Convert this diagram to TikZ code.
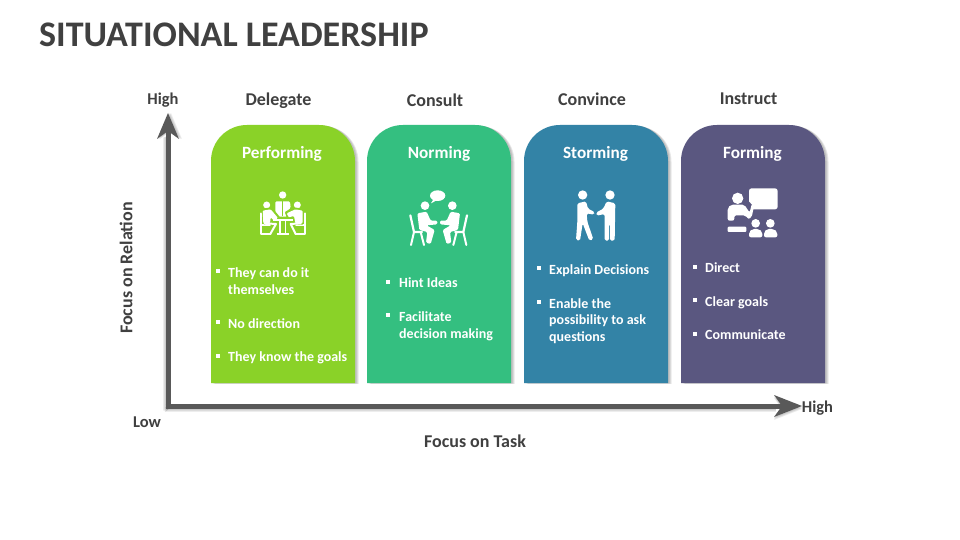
\documentclass[tikz,border=0pt]{standalone}
\usepackage{fontspec}
\setmainfont{Carlito}
\usetikzlibrary{calc}
\definecolor{cgreen}{HTML}{8AD228}
\definecolor{cteal}{HTML}{34BF80}
\definecolor{cblue}{HTML}{3383A6}
\definecolor{cpurple}{HTML}{5A5780}
\definecolor{ink}{HTML}{404040}
\definecolor{axis}{HTML}{595959}
\newcommand{\cardpath}{(0,383) -- (0,161) .. controls (0,141) and (16,125) .. (36,125) -- (108,125) .. controls (128,125) and (144,141) .. (144,161) -- (144,383) -- cycle}
\newcommand{\cardshape}[2]{%
  \begin{scope}[shift={(#1,0)}]
    \foreach \d in {3.5,2.5,1.5}{\fill[black,opacity=.09,shift={(\d,\d*0.25)}] \cardpath;}
    \fill[#2] \cardpath;
  \end{scope}}
\newcommand{\sbul}[2]{\fill[white] (#1-2,#2-2) rectangle (#1+2,#2+2);}
\tikzset{
  x=1pt,y=-1pt,
  label text/.style={text=ink,font=\fontsize{18}{20}\selectfont\bfseries,inner sep=0pt,anchor=base},
  end text/.style={text=ink,font=\fontsize{16.5}{18}\selectfont\bfseries,inner sep=0pt,anchor=base},
  card title/.style={text=white,font=\fontsize{17.2}{19}\selectfont\bfseries,inner sep=0pt,anchor=base},
  bullet text/.style={text=white,font=\fontsize{14}{17}\selectfont\bfseries,inner sep=0pt,anchor=base west},
  axis line/.style={draw=axis,line width=5pt},
  axis head/.style={fill=axis},
  iconline/.style={draw=white,line cap=round,line join=round},
}
\begin{document}
\begin{tikzpicture}
\useasboundingbox (0,0) rectangle (960,540);
\fill[white] (0,0) rectangle (960,540);

\node[text=ink,font=\fontsize{36}{40}\selectfont\bfseries,inner sep=0pt,anchor=west] (title) at (39,34.5) {SITUATIONAL LEADERSHIP};

\cardshape{211}{cgreen}
\cardshape{367}{cteal}
\cardshape{524}{cblue}
\cardshape{681}{cpurple}

% axes
\coordinate (origin) at (168,406);
\coordinate (ytip) at (168,113);
\coordinate (xtip) at (802,406);
\foreach \d in {3,2,1}{
  \draw[black,opacity=.07,line width=5pt,line cap=round] ($(origin)+(-\d,\d)$) -- ($(ytip)+(-\d,26)$);
  \draw[black,opacity=.07,line width=5pt] ($(origin)+(-\d,\d)$) -- ($(xtip)+(-26,\d)$);
  \fill[black,opacity=.08] ($(ytip)+(\d,0)$) -- ++(-11,26) -- ++(11,-8) -- ++(11,8) -- cycle;
  \fill[black,opacity=.08] ($(xtip)+(0,\d)$) -- ++(-28,-11) -- ++(8,11) -- ++(-8,11) -- cycle;
}
\draw[axis line] (origin) -- ($(ytip)+(0,18)$);
\draw[axis line] ($(origin)+(-2.5,0)$) -- ($(xtip)+(-20,0)$);
\fill[axis head] (ytip) -- ++(-11,26) -- ++(11,-8) -- ++(11,8) -- cycle;
\fill[axis head] (xtip) -- ++(-28,-11) -- ++(8,11) -- ++(-8,11) -- cycle;

% labels
\node[end text] (yhigh) at (163,104.5) {High};
\node[end text] (ylow) at (147,427) {Low};
\node[end text] (xhigh) at (817.5,412.5) {High};
\node[label text] (xlabel) at (475,447.5) {Focus on Task};
\node[text=ink,font=\fontsize{18}{20}\selectfont\bfseries,inner sep=0pt,rotate=90] (ylabel) at (126,268) {Focus on Relation};
\node[label text] (h1) at (278.5,105.5) {Delegate};
\node[label text] (h2) at (435,106.5) {Consult};
\node[label text] (h3) at (592,106) {Convince};
\node[label text] (h4) at (748.5,105) {Instruct};

% card titles
\node[card title] (t1) at (282,159) {Performing};
\node[card title] (t2) at (439,159) {Norming};
\node[card title] (t3) at (595.5,159) {Storming};
\node[card title] (t4) at (752.5,159) {Forming};

% bullets card 1
\sbul{218}{271}\node[bullet text] (b11) at (228,277) {They can do it};
\node[bullet text] (b12) at (228,294) {themselves};
\sbul{218}{322}\node[bullet text] (b13) at (228,328) {No direction};
\sbul{218}{356}\node[bullet text] (b14) at (228,361) {They know the goals};
% bullets card 2
\sbul{388}{282}\node[bullet text] (b21) at (399,287) {Hint Ideas};
\sbul{388}{315}\node[bullet text] (b22) at (399,321) {Facilitate};
\node[bullet text] (b23) at (399,338) {decision making};
% bullets card 3
\sbul{539}{268}\node[bullet text] (b31) at (549,274) {Explain Decisions};
\sbul{539}{302}\node[bullet text] (b32) at (549,308) {Enable the};
\node[bullet text] (b33) at (549,324.5) {possibility to ask};
\node[bullet text] (b34) at (549,341) {questions};
% bullets card 4
\sbul{695}{267}\node[bullet text] (b41) at (705,272.5) {Direct};
\sbul{695}{300}\node[bullet text] (b42) at (705,306) {Clear goals};
\sbul{695}{334}\node[bullet text] (b43) at (705,339) {Communicate};

% icon 1: meeting at table
\begin{scope}[shift={(250,180)},x=0.3333pt,y=-0.3333pt]
  \fill[white] (98,45) circle (11);
  \fill[white] (50,75) circle (10.5);
  \fill[white] (142,75) circle (10.5);
  \fill[white,rounded corners=1.3pt] (76,110) -- (76,64) -- (120,64) -- (122,84) -- (112,92) -- (112,110) -- cycle;
  \draw[cgreen,line width=.4pt] (98,60) -- (98,108);
  \draw[iconline,line width=1.7pt] (32,100) -- (32,162) -- (62,162);
  \draw[iconline,line width=1.7pt] (32,136) -- (60,136);
  \draw[iconline,line width=1.7pt] (166,100) -- (166,162) -- (136,162);
  \draw[iconline,line width=1.7pt] (166,136) -- (138,136);
  \fill[cgreen,rounded corners=1pt] (34,86) -- (66,82) -- (92,114) -- (72,128) -- (64,128) -- (40,134) -- cycle;
  \fill[cgreen,rounded corners=1pt] (162,86) -- (130,82) -- (104,96) -- (112,116) -- (130,114) -- (132,134) -- (160,134) -- cycle;
  \fill[white,rounded corners=1pt] (38,92) -- (62,88) -- (84,114) -- (72,122) -- (62,112) -- (60,130) -- (40,130) -- cycle;
  \fill[white,rounded corners=1pt] (158,92) -- (136,88) -- (110,100) -- (116,112) -- (132,108) -- (136,130) -- (158,130) -- cycle;
  \draw[iconline,line width=2pt] (44,130) -- (78,132) -- (62,160);
  \draw[iconline,line width=2pt] (152,130) -- (122,132) -- (136,160);
  \draw[white,line width=2pt] (68,120) -- (128,120);
  \draw[white,line width=1.3pt] (90,120) -- (90,160) (106,120) -- (106,160);
  \draw[white,line width=1.3pt] (80,162) -- (116,162);
\end{scope}

% icon 2: two people talking
\begin{scope}[shift={(400,180)},x=0.3333pt,y=-0.3333pt]
  \fill[white] (113,47) ellipse (23 and 16);
  \fill[white] (100,58) -- (93,70) -- (112,60) -- cycle;
  \foreach \mx/\s in {0/1,232/-1}{
    \begin{scope}[shift={(\mx,0)},xscale=\s]
      \fill[white] (75,77) circle (13);
      \fill[white,rounded corners=1.3pt] (52,100) -- (80,95) -- (92,122) -- (112,122) -- (112,133) -- (80,136) -- (104,150) -- (92,192) -- (78,188) -- (82,156) -- (58,150) -- cycle;
      \draw[iconline,line width=2.2pt] (31,106) -- (42,156) -- (66,156);
      \draw[iconline,line width=2pt] (42,156) -- (33,195);
      \draw[iconline,line width=2pt] (62,156) -- (72,195);
    \end{scope}
  }
\end{scope}

% icon 3: handshake
\begin{scope}[shift={(560,180)},x=0.3333pt,y=-0.3333pt]
  \fill[white] (68,45) circle (14);
  \fill[white] (150,45) circle (14);
  \fill[white,rounded corners=1.6pt] (52,70) -- (78,64) -- (84,86) -- (104,96) -- (102,104) -- (80,100) -- (82,125) -- (100,178) -- (88,182) -- (68,130) -- (60,182) -- (48,180) -- (52,125) -- cycle;
  \fill[white,rounded corners=1.6pt] (166,70) -- (140,64) -- (130,86) -- (108,98) -- (110,107) -- (134,102) -- (134,182) -- (147,182) -- (147,132) -- (150,132) -- (150,182) -- (164,182) -- cycle;
\end{scope}

% icon 4: teacher and class
\begin{scope}[shift={(715,180)},x=0.3333pt,y=-0.3333pt]
  \fill[white,rounded corners=2.6pt] (102,25) rectangle (188,88);
  \fill[cpurple] (98,60) -- (112,76) -- (112,100) -- (92,100) -- cycle;
  \fill[white] (68,55) circle (17);
  \fill[white,rounded corners=2pt] (38,122) -- (38,84) -- (48,74) -- (88,74) -- (104,98) -- (110,72) -- (118,74) -- (110,112) -- (100,118) -- (92,106) -- (58,106) -- (58,122) -- cycle;
  \fill[white,rounded corners=1pt] (38,140) rectangle (94,156);
  \fill[white] (122,130) circle (13);
  \fill[white] (166,130) circle (13);
  \fill[white,rounded corners=2pt] (102,172) -- (102,156) -- (112,147) -- (132,147) -- (142,156) -- (142,172) -- cycle;
  \fill[white,rounded corners=2pt] (147,172) -- (147,156) -- (156,147) -- (176,147) -- (187,156) -- (187,172) -- cycle;
\end{scope}
\end{tikzpicture}
\end{document}
